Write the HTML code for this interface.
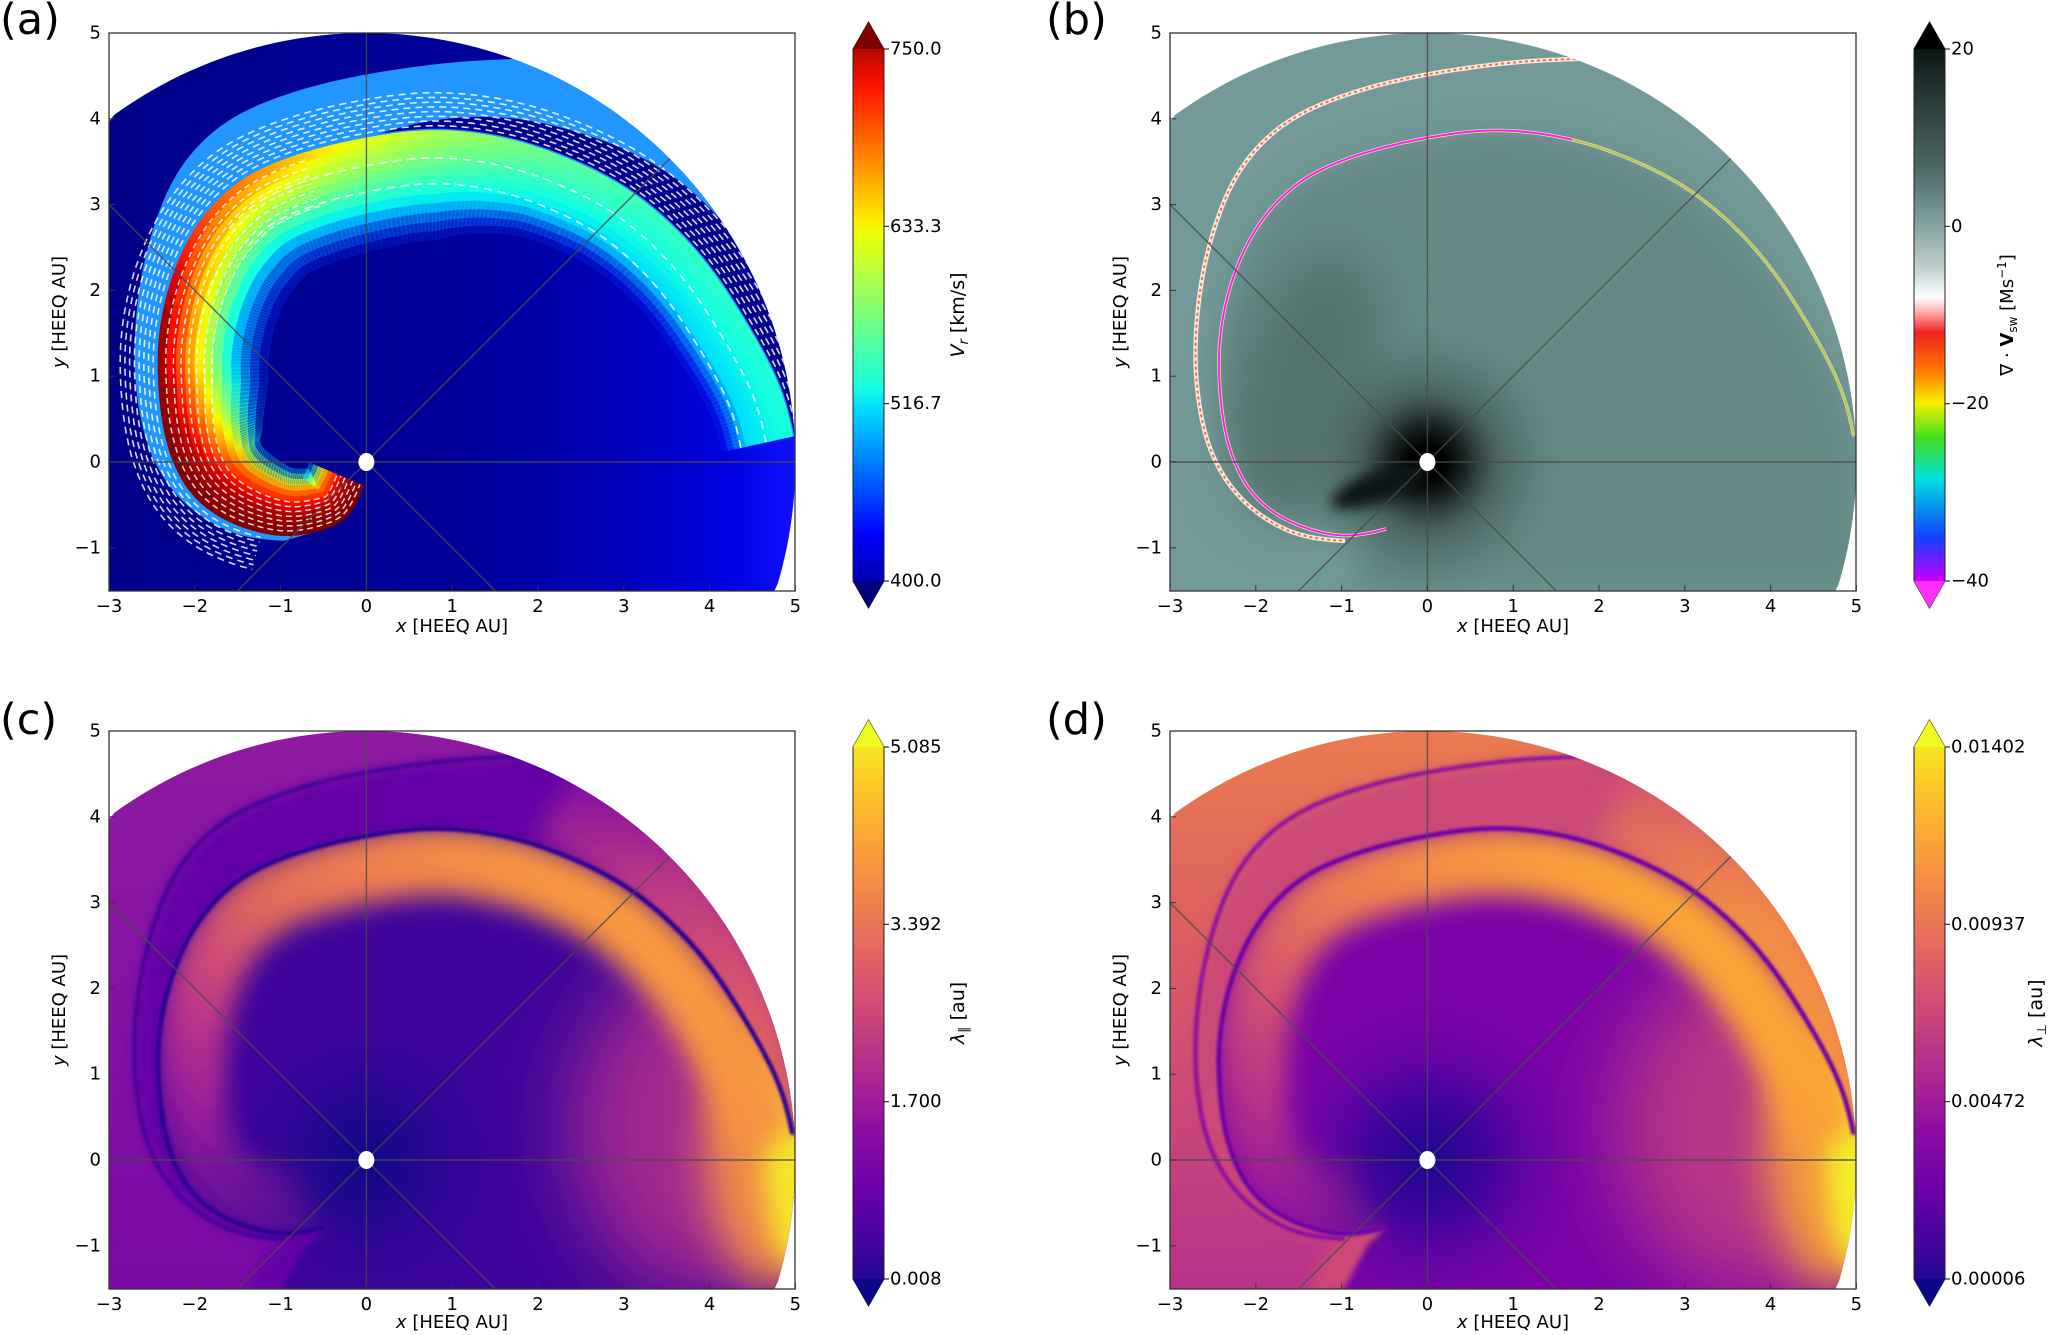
<!DOCTYPE html>
<html><head><meta charset="utf-8"><style>
html,body{margin:0;padding:0;background:#fff;width:2050px;height:1335px;overflow:hidden;position:relative}
svg#s{position:absolute;left:0;top:0;display:block;overflow:hidden}
text{font-family:"DejaVu Sans","Liberation Sans",sans-serif}
</style></head><body>
<svg id="s" xmlns="http://www.w3.org/2000/svg" width="2050" height="1335" viewBox="0 0 2050 1335">
<defs id="d">
<linearGradient id="cbJet" x1="0" y1="0" x2="0" y2="1">
<stop offset="0" stop-color="#7f0000"/><stop offset=".11" stop-color="#ff1300"/><stop offset=".34" stop-color="#ffed00"/><stop offset=".36" stop-color="#eeff08"/><stop offset=".5" stop-color="#7aff7a"/><stop offset=".625" stop-color="#15ffe2"/><stop offset=".66" stop-color="#00dbff"/><stop offset=".875" stop-color="#0000ff"/><stop offset="1" stop-color="#00007f"/>
</linearGradient>
<linearGradient id="cbDiv" x1="0" y1="0" x2="0" y2="1">
<stop offset="0" stop-color="#000"/><stop offset=".1" stop-color="#1d2e2c"/><stop offset=".25" stop-color="#4e6866"/><stop offset=".333" stop-color="#7a9a98"/><stop offset=".42" stop-color="#c0d0cf"/><stop offset=".47" stop-color="#fff"/><stop offset=".5" stop-color="#ff9a9a"/><stop offset=".53" stop-color="#f02020"/><stop offset=".6" stop-color="#ff8000"/><stop offset=".65" stop-color="#f5f000"/><stop offset=".71" stop-color="#40e020"/><stop offset=".78" stop-color="#00e0e0"/><stop offset=".88" stop-color="#1040ff"/><stop offset=".95" stop-color="#c000ff"/><stop offset="1" stop-color="#ff20ff"/>
</linearGradient>
<linearGradient id="cbPl" x1="0" y1="0" x2="0" y2="1">
<stop offset="0" stop-color="#f0f921"/><stop offset=".1" stop-color="#fcce25"/><stop offset=".2" stop-color="#fca636"/><stop offset=".3" stop-color="#f2844b"/><stop offset=".4" stop-color="#e16462"/><stop offset=".5" stop-color="#cc4778"/><stop offset=".6" stop-color="#b12a90"/><stop offset=".7" stop-color="#8f0da4"/><stop offset=".8" stop-color="#6a00a8"/><stop offset=".9" stop-color="#41049d"/><stop offset="1" stop-color="#0d0887"/>
</linearGradient>
</defs>
<g id="plots"></g>

<g font-size="43" fill="#000">
<text x="0" y="34">(a)</text><text x="1046" y="34">(b)</text>
<text x="0" y="734">(c)</text><text x="1046" y="734">(d)</text>
</g>

<g transform="translate(109,33)" font-size="18" fill="#000">
<g text-anchor="middle"><text x="0" y="579">−3</text><text x="85.8" y="579">−2</text><text x="171.6" y="579">−1</text><text x="257.4" y="579">0</text><text x="343.2" y="579">1</text><text x="429" y="579">2</text><text x="514.8" y="579">3</text><text x="600.6" y="579">4</text><text x="686.4" y="579">5</text></g>
<g text-anchor="end" dominant-baseline="central"><text x="-8" y="0">5</text><text x="-8" y="85.8">4</text><text x="-8" y="171.6">3</text><text x="-8" y="257.4">2</text><text x="-8" y="343.2">1</text><text x="-8" y="429">0</text><text x="-8" y="514.8">−1</text></g>
<text x="343" y="599" text-anchor="middle"><tspan font-style="italic">x</tspan> [HEEQ AU]</text>
<text transform="translate(-44,279) rotate(-90)" text-anchor="middle"><tspan font-style="italic">y</tspan> [HEEQ AU]</text>
<g dominant-baseline="central"><text x="781" y="16">750.0</text><text x="781" y="193.3">633.3</text><text x="781" y="370.7">516.7</text><text x="781" y="548">400.0</text></g>
<text transform="translate(855,282) rotate(-90)" text-anchor="middle" font-size="19"><tspan font-style="italic">V</tspan><tspan font-style="italic" font-size="13" dy="4">r</tspan><tspan dy="-4"> [km/s]</tspan></text>
</g>
<g transform="translate(1170,33)" font-size="18" fill="#000">
<g text-anchor="middle"><text x="0" y="579">−3</text><text x="85.8" y="579">−2</text><text x="171.6" y="579">−1</text><text x="257.4" y="579">0</text><text x="343.2" y="579">1</text><text x="429" y="579">2</text><text x="514.8" y="579">3</text><text x="600.6" y="579">4</text><text x="686.4" y="579">5</text></g>
<g text-anchor="end" dominant-baseline="central"><text x="-8" y="0">5</text><text x="-8" y="85.8">4</text><text x="-8" y="171.6">3</text><text x="-8" y="257.4">2</text><text x="-8" y="343.2">1</text><text x="-8" y="429">0</text><text x="-8" y="514.8">−1</text></g>
<text x="343" y="599" text-anchor="middle"><tspan font-style="italic">x</tspan> [HEEQ AU]</text>
<text transform="translate(-44,279) rotate(-90)" text-anchor="middle"><tspan font-style="italic">y</tspan> [HEEQ AU]</text>
<g dominant-baseline="central"><text x="781" y="16">20</text><text x="781" y="193.3">0</text><text x="781" y="370.7">−20</text><text x="781" y="548">−40</text></g>
<text transform="translate(843,282) rotate(-90)" text-anchor="middle" font-size="18">∇ · <tspan font-weight="bold">V</tspan><tspan font-size="12" dy="4">sw</tspan><tspan dy="-4"> [Ms</tspan><tspan font-size="12" dy="-7">−1</tspan><tspan dy="7">]</tspan></text>
</g>
<g transform="translate(109,731)" font-size="18" fill="#000">
<g text-anchor="middle"><text x="0" y="579">−3</text><text x="85.8" y="579">−2</text><text x="171.6" y="579">−1</text><text x="257.4" y="579">0</text><text x="343.2" y="579">1</text><text x="429" y="579">2</text><text x="514.8" y="579">3</text><text x="600.6" y="579">4</text><text x="686.4" y="579">5</text></g>
<g text-anchor="end" dominant-baseline="central"><text x="-8" y="0">5</text><text x="-8" y="85.8">4</text><text x="-8" y="171.6">3</text><text x="-8" y="257.4">2</text><text x="-8" y="343.2">1</text><text x="-8" y="429">0</text><text x="-8" y="514.8">−1</text></g>
<text x="343" y="597" text-anchor="middle"><tspan font-style="italic">x</tspan> [HEEQ AU]</text>
<text transform="translate(-44,279) rotate(-90)" text-anchor="middle"><tspan font-style="italic">y</tspan> [HEEQ AU]</text>
<g dominant-baseline="central"><text x="781" y="16">5.085</text><text x="781" y="193.3">3.392</text><text x="781" y="370.7">1.700</text><text x="781" y="548">0.008</text></g>
<text transform="translate(855,282) rotate(-90)" text-anchor="middle" font-size="19"><tspan font-style="italic">λ</tspan><tspan font-size="13" dy="4">∥</tspan><tspan dy="-4"> [au]</tspan></text>
</g>
<g transform="translate(1170,731)" font-size="18" fill="#000">
<g text-anchor="middle"><text x="0" y="579">−3</text><text x="85.8" y="579">−2</text><text x="171.6" y="579">−1</text><text x="257.4" y="579">0</text><text x="343.2" y="579">1</text><text x="429" y="579">2</text><text x="514.8" y="579">3</text><text x="600.6" y="579">4</text><text x="686.4" y="579">5</text></g>
<g text-anchor="end" dominant-baseline="central"><text x="-8" y="0">5</text><text x="-8" y="85.8">4</text><text x="-8" y="171.6">3</text><text x="-8" y="257.4">2</text><text x="-8" y="343.2">1</text><text x="-8" y="429">0</text><text x="-8" y="514.8">−1</text></g>
<text x="343" y="597" text-anchor="middle"><tspan font-style="italic">x</tspan> [HEEQ AU]</text>
<text transform="translate(-44,279) rotate(-90)" text-anchor="middle"><tspan font-style="italic">y</tspan> [HEEQ AU]</text>
<g dominant-baseline="central"><text x="781" y="16">0.01402</text><text x="781" y="193.3">0.00937</text><text x="781" y="370.7">0.00472</text><text x="781" y="548">0.00006</text></g>
<text transform="translate(872,282) rotate(-90)" text-anchor="middle" font-size="19"><tspan font-style="italic">λ</tspan><tspan font-size="13" dy="4">⊥</tspan><tspan dy="-4"> [au]</tspan></text>
</g>

<g transform="translate(109,33)"><path d="M744,16 L759.5,-11 L775,16 L775,548 L759.5,575 L744,548Z" fill="url(#cbJet)" stroke="#222" stroke-width="1"/><path d="M744,16 L759.5,-11 L775,16Z" fill="#7f0000"/><path d="M744,548 L759.5,575 L775,548Z" fill="#00007f"/><g stroke="#000"><line x1="775" x2="780" y1="16" y2="16"/><line x1="775" x2="780" y1="193.3" y2="193.3"/><line x1="775" x2="780" y1="370.7" y2="370.7"/><line x1="775" x2="780" y1="548" y2="548"/></g></g>
<g transform="translate(1170,33)"><path d="M744,16 L759.5,-11 L775,16 L775,548 L759.5,575 L744,548Z" fill="url(#cbDiv)" stroke="#222" stroke-width="1"/><path d="M744,16 L759.5,-11 L775,16Z" fill="#000"/><path d="M744,548 L759.5,575 L775,548Z" fill="#ff30ff"/><g stroke="#000"><line x1="775" x2="780" y1="16" y2="16"/><line x1="775" x2="780" y1="193.3" y2="193.3"/><line x1="775" x2="780" y1="370.7" y2="370.7"/><line x1="775" x2="780" y1="548" y2="548"/></g></g>
<g transform="translate(109,731)"><path d="M744,16 L759.5,-11 L775,16 L775,548 L759.5,575 L744,548Z" fill="url(#cbPl)" stroke="#222" stroke-width="1"/><path d="M744,16 L759.5,-11 L775,16Z" fill="#f0f921"/><path d="M744,548 L759.5,575 L775,548Z" fill="#0d0887"/><g stroke="#000"><line x1="775" x2="780" y1="16" y2="16"/><line x1="775" x2="780" y1="193.3" y2="193.3"/><line x1="775" x2="780" y1="370.7" y2="370.7"/><line x1="775" x2="780" y1="548" y2="548"/></g></g>
<g transform="translate(1170,731)"><path d="M744,16 L759.5,-11 L775,16 L775,548 L759.5,575 L744,548Z" fill="url(#cbPl)" stroke="#222" stroke-width="1"/><path d="M744,16 L759.5,-11 L775,16Z" fill="#f0f921"/><path d="M744,548 L759.5,575 L775,548Z" fill="#0d0887"/><g stroke="#000"><line x1="775" x2="780" y1="16" y2="16"/><line x1="775" x2="780" y1="193.3" y2="193.3"/><line x1="775" x2="780" y1="370.7" y2="370.7"/><line x1="775" x2="780" y1="548" y2="548"/></g></g>
</svg>
<script>
const S=85.8,NS="http://www.w3.org/2000/svg";
const defs=document.getElementById('d'),root=document.getElementById('plots');
function el(t,a,p){const e=document.createElementNS(NS,t);for(const k in a)e.setAttribute(k,a[k]);(p||root).appendChild(e);return e;}
function cr(pts,n){const o=[];for(let i=0;i<pts.length-1;i++){const p0=pts[Math.max(i-1,0)],p1=pts[i],p2=pts[i+1],p3=pts[Math.min(i+2,pts.length-1)];for(let k=0;k<n;k++){const t=k/n,t2=t*t,t3=t2*t;o.push([0,1].map(j=>0.5*(2*p1[j]+(-p0[j]+p2[j])*t+(2*p0[j]-5*p1[j]+4*p2[j]-p3[j])*t2+(-p0[j]+3*p1[j]-3*p2[j]+p3[j])*t3)));}}o.push(pts[pts.length-1]);return o;}
function smooth(p,w){const o=[];for(let i=0;i<p.length;i++){const h=Math.min(w,i,p.length-1-i);let sx=0,sy=0,c=0;for(let j=i-h;j<=i+h;j++){sx+=p[j][0];sy+=p[j][1];c++;}o.push([sx/c,sy/c]);}return o;}
function offs(p,f){return p.map((q,i)=>{const a=p[Math.max(i-2,0)],b=p[Math.min(i+2,p.length-1)];const tx=b[0]-a[0],ty=b[1]-a[1],L=Math.hypot(tx,ty)||1;const d=typeof f=='function'?f(i,q):f;return [q[0]-ty/L*d,q[1]+tx/L*d];});}
function lt(t,tab){if(t<=tab[0][0])return tab[0][1];for(let i=0;i<tab.length-1;i++){if(t<=tab[i+1][0]){const u=(t-tab[i][0])/(tab[i+1][0]-tab[i][0]);return tab[i][1]+u*(tab[i+1][1]-tab[i][1]);}}return tab[tab.length-1][1];}
function jet(v){v=Math.max(0,Math.min(1,v));const r=lt(v,[[0,0],[.35,0],[.66,1],[.89,1],[1,.5]]),g=lt(v,[[0,0],[.125,0],[.375,1],[.64,1],[.91,0],[1,0]]),b=lt(v,[[0,.5],[.11,1],[.34,1],[.65,0],[1,0]]);return `rgb(${Math.round(r*255)},${Math.round(g*255)},${Math.round(b*255)})`;}
const ang=q=>{let a=Math.atan2(q[1]-1.4,q[0]-0.8)*180/Math.PI;if(a<-60)a+=360;return a;};
const arc=(r,a1,a2,n=50)=>{const o=[];for(let i=0;i<=n;i++){const a=(a1+(a2-a1)*i/n)*Math.PI/180;o.push([r*Math.cos(a),r*Math.sin(a)]);}return o;};
const clampR=p=>p.map(q=>[Math.max(-3.05,Math.min(5.05,q[0])),Math.max(-1.55,Math.min(5.05,q[1]))]);
const bl={};function blur(sd){if(!bl[sd]){const f=el('filter',{id:'b'+sd,filterUnits:'userSpaceOnUse',x:0,y:0,width:2050,height:1335},defs);el('feGaussianBlur',{stdDeviation:sd},f);bl[sd]=1;}return `url(#b${sd})`;}
function lg(id,x1,y1,x2,y2,st){const g=el('linearGradient',{id,gradientUnits:'userSpaceOnUse',x1,y1,x2,y2},defs);st.forEach(s=>el('stop',{offset:s[0],'stop-color':s[1],'stop-opacity':s[2]==null?1:s[2]},g));}
function rg(id,cx,cy,r,st){const g=el('radialGradient',{id,gradientUnits:'userSpaceOnUse',cx,cy,r},defs);st.forEach(s=>el('stop',{offset:s[0],'stop-color':s[1],'stop-opacity':s[2]==null?1:s[2]},g));}
let uid=0;
function panel(ox,oy){const M=q=>[ox+(q[0]+3)*S,oy+(5-q[1])*S];const P=pts=>'M'+pts.map(q=>{const r=M(q);return r[0].toFixed(1)+','+r[1].toFixed(1);}).join('L');const id='c'+(uid++);
const cp=el('clipPath',{id},defs);
const disk=arc(5,0,360,240).map(q=>[Math.max(-3,Math.min(5,q[0])),Math.max(-1.5,Math.min(5,q[1]))]);
el('path',{d:P(disk)+'Z'},cp);
const g0=el('g',{'clip-path':`url(#${id})`});const g=g0;return {M,P,g,g0,ox,oy,id};}
const innerC=[[4.97,0.3],[4.81,0.9],[4.39,1.68],[3.85,2.46],[3.1,3.15],[2.25,3.58],[1.5,3.8],[0.75,3.87],[0,3.78],[-0.75,3.6],[-1.45,3.3],[-1.95,2.8],[-2.25,2.2],[-2.4,1.6],[-2.43,1.03],[-2.35,0.3],[-2.1,-0.3],[-1.65,-0.68],[-1.0,-0.87],[-0.48,-0.78]];
const outerC=[[1.8,4.70],[1.0,4.66],[0,4.52],[-0.8,4.33],[-1.5,4.05],[-2.0,3.65],[-2.35,3.1],[-2.6,2.3],[-2.7,1.5],[-2.68,0.8],[-2.52,0.1],[-2.14,-0.47],[-1.55,-0.84],[-0.96,-0.92]];
const inner=smooth(cr(innerC,12),5),outer=smooth(cr(outerC,12),5);
const innerClosed=inner.concat([[-0.7,-1.0],[-1.0,-1.55],[5.05,-1.55],[5.05,0.3]]);
const outerClosed=outer.concat([[-1.2,-1.1],[-1.4,-1.55],[5.05,-1.55],[5.05,4.8],[1.8,4.8]]);
function finish(p){const {M,g0}=p;const c=M([0,0]);for(let k=0;k<8;k++){const a=k*Math.PI/4,cx=Math.cos(a),sy=Math.sin(a);let t=5;if(cx<-1e-6)t=Math.min(t,-3/cx);if(cx>1e-6)t=Math.min(t,5/cx);if(sy<-1e-6)t=Math.min(t,-1.5/sy);if(sy>1e-6)t=Math.min(t,5/sy);el('line',{x1:c[0],y1:c[1],x2:c[0]+t*S*cx,y2:c[1]-t*S*sy,stroke:'#4a4a4a','stroke-width':1.4,'stroke-opacity':.85},root);}
el('ellipse',{cx:c[0],cy:c[1],rx:8,ry:9,fill:'#fff'},root);
el('rect',{x:p.ox,y:p.oy,width:686,height:558,fill:'none',stroke:'#333','stroke-width':1.3},root);
for(let k=-3;k<=5;k++){const x=p.ox+(k+3)*S;el('line',{x1:x,x2:x,y1:p.oy+558,y2:p.oy+552,stroke:'#333'},root);}
for(let k=-1;k<=5;k++){const y=p.oy+(5-k)*S;el('line',{x1:p.ox,x2:p.ox+6,y1:y,y2:y,stroke:'#333'},root);}}

/* ---------- (a) ---------- */
(function(){const A=panel(109,33),{M,P,g}=A;
lg('ga',M([-3,0])[0],0,M([5,0])[0],0,[[0,'#00008a'],[.5,'#000098'],[.75,'#0000b8'],[.9,'#0000e0'],[1,'#1010ff']]);
el('rect',{x:109,y:33,width:686,height:558,fill:'url(#ga)'},g);
el('path',{d:P(outer.concat(inner.slice().reverse(),arc(5.1,3.45,69.5)))+'Z',fill:'#2196ff'},g);
const sub=inner.filter(q=>ang(q)<108);
const wN=q=>lt(ang(q),[[-20,.5],[30,.45],[70,.25],[105,.02]]);
el('path',{d:P(offs(sub,-0.02).concat(offs(sub,(i,q)=>-wN(q)).reverse()))+'Z',fill:'#00008c'},g);
const ring=smooth(cr(innerC.concat([[-0.2,-0.62],[-0.03,-0.28]]),12),5);
const vE=q=>lt(ang(q),[[-20,.38],[30,.42],[60,.48],[90,.57],[120,.68],[150,.85],[175,1],[260,1]]);
const wB=q=>lt(ang(q),[[-20,.55],[60,.7],[90,.85],[150,.9],[190,.85],[225,.6],[245,.45],[260,.35]]);
const K=12,F=0.45;
const L=[];for(let k=0;k<=K;k++)L.push(offs(ring,(i,q)=>k/K*(wB(q)+F*(wB(q)/.9))));
for(let i=0;i<ring.length-1;i++){const q=ring[i],ve=vE(q),w=wB(q),f=F*w/.9;let bf=Math.max(0,Math.min(1,(ang(q)-180)/40));bf=bf*bf*(3-2*bf);
const tgt=.34+(.78-.34)*bf;
for(let k=0;k<K;k++){const t=(k+.5)/K*(w+f);let v,op=1;if(t<w)v=ve-(ve-tgt)*Math.pow(t/w,1.1+bf);else{const u=(t-w)/f;v=tgt-(.18+.3*bf)*u;op=1-u*.9;}const col=jet(v);el('path',{d:P([L[k][i],L[k][i+1],L[k+1][i+1],L[k+1][i]])+'Z',fill:col,stroke:col,'stroke-width':.6,'fill-opacity':op,'stroke-opacity':op},g);}}
const subO=inner.filter(q=>ang(q)<228);
for(let j=1;j<=8;j++)el('path',{d:P(offs(subO,-0.055*j)),fill:'none',stroke:'#fff','stroke-width':1.6,'stroke-dasharray':'7,5','stroke-opacity':.85},g);
const subL=ring.filter(q=>ang(q)>=125);
for(let j=1;j<=7;j++)el('path',{d:P(offs(subL,(i,q)=>0.105*j*wB(q))),fill:'none',stroke:'#fff','stroke-width':1.5,'stroke-dasharray':'6,4','stroke-opacity':.85},g);
const subR=inner.filter(q=>ang(q)<150);
[0.32,0.62].forEach(d=>el('path',{d:P(offs(subR,d)),fill:'none',stroke:'#fff','stroke-width':1.6,'stroke-dasharray':'8,6','stroke-opacity':.85},g));
finish(A);})();

/* ---------- (b) ---------- */
(function(){const B=panel(1170,33),{M,P,g}=B;
el('rect',{x:1170,y:33,width:686,height:558,fill:'#739a98'},g);
el('path',{d:P(innerClosed)+'Z',fill:'#668986',filter:blur(14)},g);
let c=M([-1.4,0.9]);el('ellipse',{cx:c[0],cy:c[1],rx:.8*S,ry:1.6*S,fill:'#557370',filter:blur(25),transform:`rotate(15 ${c[0]} ${c[1]})`},g);
c=M([0,0]);
rg('rb2',c[0],c[1],1.6*S,[[0,'#000'],[.12,'#000'],[.28,'#1b2625'],[.5,'#3f5654',.75],[1,'#5a7a77',0]]);
el('circle',{cx:c[0],cy:c[1],r:1.6*S,fill:'url(#rb2)'},g);
c=M([-0.55,-0.28]);el('ellipse',{cx:c[0],cy:c[1],rx:.6*S,ry:.18*S,fill:'#0c1212',filter:blur(6),transform:`rotate(-20 ${c[0]} ${c[1]})`},g);
el('path',{d:P(outer),fill:'none',stroke:'#f2ece6','stroke-width':4.5},g);
el('path',{d:P(outer),fill:'none',stroke:'#ff6a30','stroke-width':2,'stroke-dasharray':'3,3'},g);
el('path',{d:P(inner),fill:'none',stroke:'#e0e0a0','stroke-width':3.5},g);
el('path',{d:P(inner),fill:'none',stroke:'#ff10ff','stroke-width':1.8},g);
el('path',{d:P(inner.filter(q=>ang(q)<70)),fill:'none',stroke:'#b0d040','stroke-width':1.8},g);
finish(B);})();

/* ---------- (c)/(d) ---------- */
function plasma(ox,oy,c){const p=panel(ox,oy),{M,P,g}=p,id='q'+(uid++);
lg(id+'g',0,M([0,5])[1],0,M([0,-1.5])[1],c.base);
el('rect',{x:ox,y:oy,width:686,height:558,fill:`url(#${id}g)`},g);
el('path',{d:P(outerClosed)+'Z',fill:c.between,filter:blur(7)},g);
const mk=el('mask',{id:id+'m',maskUnits:'userSpaceOnUse',x:0,y:0,width:2050,height:1335},defs);
el('rect',{x:0,y:0,width:2050,height:1335,fill:'#fff'},mk);el('path',{d:P(innerClosed)+'Z',fill:'#000'},mk);
const gm=el('g',{mask:`url(#${id}m)`},g);
lg(id+'r',0,M([0,4.6])[1],0,M([0,0.5])[1],c.right);
el('path',{d:P(arc(4.72,0,62,60)),fill:'none',stroke:`url(#${id}r)`,'stroke-width':.95*S,filter:blur(14)},gm);
const mk2=el('mask',{id:id+'i',maskUnits:'userSpaceOnUse',x:0,y:0,width:2050,height:1335},defs);
el('path',{d:P(innerClosed)+'Z',fill:'#fff',filter:blur(3)},mk2);
const gi=el('g',{mask:`url(#${id}i)`},g);
el('rect',{x:ox,y:oy,width:686,height:558,fill:c.interior},gi);
c.ells.forEach(e=>{const q=M([e[0],e[1]]);el('ellipse',{cx:q[0],cy:q[1],rx:e[2]*S,ry:e[3]*S,fill:e[4],'fill-opacity':e[5],filter:blur(e[6])},gi);});
const a=M([-2.5,-0.5]),b=M([2.5,4]);lg(id+'b',a[0],a[1],b[0],b[1],c.band);
el('path',{d:P(offs(inner,0.38)),fill:'none',stroke:`url(#${id}b)`,'stroke-width':.8*S,filter:blur(13)},gi);
const z=M([0,0]);rg(id+'z',z[0],z[1],2.0*S,c.center);
el('circle',{cx:z[0],cy:z[1],r:1.98*S,fill:`url(#${id}z)`},gi);
el('path',{d:P(outer),fill:'none',stroke:c.ringO,'stroke-width':3.5,filter:blur(1.5)},g);
el('path',{d:P(inner),fill:'none',stroke:c.ringI,'stroke-width':4.5,filter:blur(1.2)},g);
finish(p);}
plasma(109,731,{base:[[0,'#8e1aa0'],[1,'#7a0aa6']],between:'#6304a6',interior:'#3e049c',
right:[[0,'#7a0aa5'],[.35,'#c03a83'],[.7,'#dc5a68'],[1,'#e26561']],
ells:[[4.0,0.4,1.6,2.0,'#b5308c',.85,40],[4.75,0.2,0.8,1.7,'#f89540',.95,22],[5.05,0.0,0.4,1.3,'#f5e626',1,12]],
band:[[0,'#4a03a0'],[.18,'#a0209a'],[.32,'#c8407f'],[.5,'#e06a5a'],[.67,'#f07f4f'],[.9,'#f89540'],[1,'#fa9a3c']],
center:[[0,'#0d0887'],[.35,'#24068f',.9],[1,'#3e049c',0]],ringO:'#3a049a',ringI:'#2a0593'});
plasma(1170,731,{base:[[0,'#eb7b4e'],[.35,'#dc6060'],[.6,'#cf4c74'],[1,'#b8328b']],between:'#cc4877',interior:'#7a03a8',
right:[[0,'#d5536f'],[.4,'#f08a47'],[1,'#f89540']],
ells:[[3.9,0.4,1.7,2.0,'#c23d80',.85,40],[4.75,0.2,0.8,1.7,'#f8a03a',.95,22],[5.05,0.0,0.4,1.3,'#f3ee27',1,12]],
band:[[0,'#8a0aa5'],[.18,'#b83289'],[.32,'#d5536f'],[.5,'#ec7853'],[.67,'#f58b47'],[.9,'#fca337'],[1,'#fca636']],
center:[[0,'#1a0690'],[.35,'#3a049a',.9],[1,'#7a03a8',0]],ringO:'#7a02a8',ringI:'#6a00a8'});
</script>
</body></html>
